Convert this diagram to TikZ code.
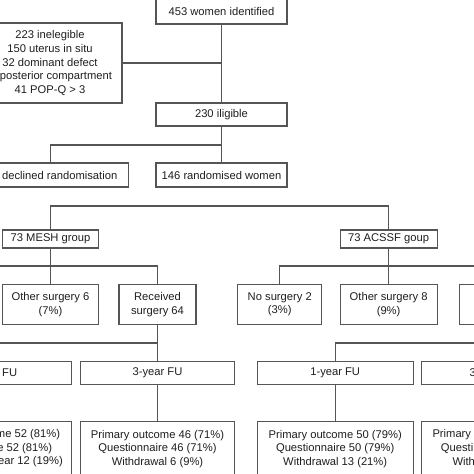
\documentclass[tikz,border=0pt]{standalone}
\usepackage{fontspec}
\setmainfont{Liberation Sans}
\definecolor{linegray}{RGB}{85,85,85}
\definecolor{inkgray}{RGB}{30,30,30}
\begin{document}
\begin{tikzpicture}[x=1pt,y=-1pt,
    flowbox/.style={draw=linegray, line width=1.1pt, text=inkgray, align=center,
        inner sep=2pt, font=\fontsize{11.2}{13.6}\selectfont},
    frag/.style={text=inkgray, inner sep=0pt, font=\fontsize{11.2}{13.6}\selectfont},
    conn/.style={draw=linegray, line width=1.1pt}]
    \def\xmain{221.5}
    \def\xleft{50.5}
    \def\xacs{388.6}
    \def\xrecv{157.5}
    \def\xrecvA{498}
    \useasboundingbox (0,0) rectangle (474,474);
    \clip (0,0) rectangle (474,474);

    % Screening
    \node[flowbox, minimum width=131pt, minimum height=25pt] (ident) at (\xmain,11.5) {453 women identified};
    \node[flowbox, minimum width=144pt, minimum height=80pt] (excl) at (50,63)
        {223 inelegible\\150 uterus in situ\\32 dominant defect\\\phantom{in }posterior compartment\\41 POP-Q > 3};
    \node[flowbox, minimum width=131pt, minimum height=23pt] (elig) at (\xmain,114.5) {230 iligible};

    % Randomisation
    \node[flowbox, minimum width=156pt, minimum height=24pt] (declined) at (\xleft,175) {};
    \node[frag, anchor=east] (declinedtxt) at (117.5,175) {declined randomisation};
    \node[flowbox, minimum width=131pt, minimum height=24pt] (rand) at (\xmain,175) {146 randomised women};

    % Groups
    \node[flowbox, minimum width=96pt, minimum height=18pt] (mesh) at (\xleft,239) {73 MESH group};
    \node[flowbox, minimum width=97pt, minimum height=18pt] (acssf) at (\xacs,239) {73 ACSSF goup};

    % Surgery
    \node[flowbox, minimum width=96pt, minimum height=40pt] (other6) at (\xleft,304.3) {Other surgery 6\\(7\%)};
    \node[flowbox, minimum width=77pt, minimum height=40pt] (recv) at (\xrecv,304.3) {Received\\surgery 64};
    \node[flowbox, minimum width=84pt, minimum height=40pt] (nosurg2) at (279.8,304.3) {No surgery 2\\(3\%)};
    \node[flowbox, minimum width=97pt, minimum height=40pt] (other8) at (\xacs,304.3) {Other surgery 8\\(9\%)};
    \node[flowbox, minimum width=77pt, minimum height=40pt] (recvA) at (\xrecvA,304.3) {};

    % Follow-up
    \node[flowbox, minimum width=153pt, minimum height=23.3pt] (fu1m) at (-5.3,372.7) {};
    \node[frag, anchor=east] (fu1mtxt) at (17.3,372.7) {FU};
    \node[flowbox, minimum width=153.3pt, minimum height=23.3pt] (fu3m) at (\xrecv,372.7) {3-year FU};
    \node[flowbox, minimum width=156.3pt, minimum height=23.3pt] (fu1a) at (335.2,372.7) {1-year FU};
    \node[flowbox, minimum width=153pt, minimum height=23.3pt] (fu3a) at (\xrecvA,372.7) {};
    \node[frag, anchor=west] (fu3atxt) at (469.5,372.7) {3};

    % Outcomes
    \node[flowbox, minimum width=153pt, minimum height=54pt] (om1m) at (-5.3,448.7) {};
    \node[flowbox, minimum width=153.3pt, minimum height=54pt] (om3m) at (\xrecv,448.7)
        {Primary outcome 46 (71\%)\\Questionnaire 46 (71\%)\\Withdrawal 6 (9\%)};
    \node[flowbox, minimum width=156.3pt, minimum height=54pt] (om1a) at (335.2,448.7)
        {Primary outcome 50 (79\%)\\Questionnaire 50 (79\%)\\Withdrawal 13 (21\%)};
    \node[flowbox, minimum width=153pt, minimum height=54pt] (om3a) at (\xrecvA,448.7) {};
    \foreach \t/\xr/\yy [count=\i] in {me 52 (81\%)/60.3/434.5, e 52 (81\%)/52.3/448.2, ear 12 (19\%)/63/461.8}
        \node[frag, anchor=east] (om1mtxt\i) at (\xr,\yy) {\t};
    \foreach \t/\xl/\yy [count=\i] in {Primary/432.3/434.5, Questi/440.7/448.2, With/452.3/461.8}
        \node[frag, anchor=west] (om3atxt\i) at (\xl,\yy) {\t};

    % Connectors
    \coordinate (j1) at (\xmain,145);
    \coordinate (j2) at (\xmain,206);
    \coordinate (j3) at (\xacs,266);
    \coordinate (nsm) at (-58,266);
    \coordinate (j4) at (\xrecv,343);
    \coordinate (j5) at (\xrecvA,343);
    \draw[conn] (ident) -- (elig);
    \draw[conn] (excl.east) -- (excl.east -| ident.south);
    \draw[conn] (elig) -- (rand);
    \draw[conn] (j1) -| (declined);
    \draw[conn] (mesh) |- (j2) -| (acssf);
    \draw[conn] (mesh) -- (other6);
    \draw[conn] (nsm) -| (recv);
    \draw[conn] (acssf) -- (other8);
    \draw[conn] (nosurg2) |- (j3) -| (recvA);
    \draw[conn] (recv) -- (fu3m);
    \draw[conn] (j4) -| (fu1m);
    \draw[conn] (recvA) -- (fu3a);
    \draw[conn] (j5) -| (fu1a);
    \foreach \a/\b in {fu1m/om1m, fu3m/om3m, fu1a/om1a, fu3a/om3a}
        \draw[conn] (\a) -- (\b);
\end{tikzpicture}
\end{document}
